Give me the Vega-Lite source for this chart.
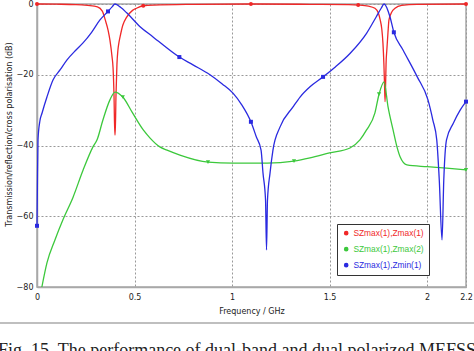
{
  "$schema": "https://vega.github.io/schema/vega-lite/v6.json",
  "autosize": {"type": "none"},
  "padding": {"left": 37, "top": 4, "right": 8, "bottom": 64},
  "width": 429,
  "height": 283,
  "background": "white",
  "config": {
    "view": {"stroke": "#a8a8a8", "strokeWidth": 1.5},
    "axis": {"labelFont": "DejaVu Sans", "titleFont": "DejaVu Sans", "labelFontSize": 8, "titleFontSize": 8, "titleFontWeight": "normal", "labelColor": "#222", "titleColor": "#222", "ticks": false, "domainColor": "#a8a8a8", "domainWidth": 1.5, "gridColor": "#999", "gridDash": [2, 2], "gridWidth": 1}
  },
  "title": {"text": "Fig. 15. The performance of dual-band and dual polarized MEFSS", "orient": "bottom", "anchor": "start", "frame": "group", "dx": -39, "offset": 18, "font": "Liberation Serif", "fontSize": 18, "fontWeight": "normal", "color": "#222"},
  "datasets": {
    "curves": [
      {"s": "SZmax(1),Zmax(1)", "f": 0, "db": 0}, {"s": "SZmax(1),Zmax(1)", "f": 0.1, "db": -0.05}, {"s": "SZmax(1),Zmax(1)", "f": 0.2, "db": -0.15}, {"s": "SZmax(1),Zmax(1)", "f": 0.26, "db": -0.4}, {"s": "SZmax(1),Zmax(1)", "f": 0.31, "db": -0.8}, {"s": "SZmax(1),Zmax(1)", "f": 0.335, "db": -2}, {"s": "SZmax(1),Zmax(1)", "f": 0.35, "db": -4.5}, {"s": "SZmax(1),Zmax(1)", "f": 0.365, "db": -7.5}, {"s": "SZmax(1),Zmax(1)", "f": 0.374, "db": -10.2}, {"s": "SZmax(1),Zmax(1)", "f": 0.385, "db": -15}, {"s": "SZmax(1),Zmax(1)", "f": 0.39, "db": -18}, {"s": "SZmax(1),Zmax(1)", "f": 0.395, "db": -26}, {"s": "SZmax(1),Zmax(1)", "f": 0.399, "db": -37}, {"s": "SZmax(1),Zmax(1)", "f": 0.401, "db": -37}, {"s": "SZmax(1),Zmax(1)", "f": 0.405, "db": -26}, {"s": "SZmax(1),Zmax(1)", "f": 0.41, "db": -17}, {"s": "SZmax(1),Zmax(1)", "f": 0.415, "db": -13}, {"s": "SZmax(1),Zmax(1)", "f": 0.42, "db": -11}, {"s": "SZmax(1),Zmax(1)", "f": 0.426, "db": -9.3}, {"s": "SZmax(1),Zmax(1)", "f": 0.44, "db": -6}, {"s": "SZmax(1),Zmax(1)", "f": 0.46, "db": -3.7}, {"s": "SZmax(1),Zmax(1)", "f": 0.49, "db": -1.8}, {"s": "SZmax(1),Zmax(1)", "f": 0.51, "db": -1.2}, {"s": "SZmax(1),Zmax(1)", "f": 0.545, "db": -0.5}, {"s": "SZmax(1),Zmax(1)", "f": 0.6, "db": -0.3}, {"s": "SZmax(1),Zmax(1)", "f": 0.8, "db": -0.1}, {"s": "SZmax(1),Zmax(1)", "f": 1.097, "db": 0}, {"s": "SZmax(1),Zmax(1)", "f": 1.4, "db": -0.1}, {"s": "SZmax(1),Zmax(1)", "f": 1.6, "db": -0.2}, {"s": "SZmax(1),Zmax(1)", "f": 1.647, "db": -0.3}, {"s": "SZmax(1),Zmax(1)", "f": 1.7, "db": -0.6}, {"s": "SZmax(1),Zmax(1)", "f": 1.733, "db": -1.2}, {"s": "SZmax(1),Zmax(1)", "f": 1.75, "db": -2.5}, {"s": "SZmax(1),Zmax(1)", "f": 1.76, "db": -4.5}, {"s": "SZmax(1),Zmax(1)", "f": 1.768, "db": -7}, {"s": "SZmax(1),Zmax(1)", "f": 1.774, "db": -11}, {"s": "SZmax(1),Zmax(1)", "f": 1.779, "db": -17}, {"s": "SZmax(1),Zmax(1)", "f": 1.782, "db": -22.4}, {"s": "SZmax(1),Zmax(1)", "f": 1.785, "db": -27.6}, {"s": "SZmax(1),Zmax(1)", "f": 1.788, "db": -22}, {"s": "SZmax(1),Zmax(1)", "f": 1.79, "db": -17}, {"s": "SZmax(1),Zmax(1)", "f": 1.794, "db": -13}, {"s": "SZmax(1),Zmax(1)", "f": 1.8, "db": -8}, {"s": "SZmax(1),Zmax(1)", "f": 1.805, "db": -4.5}, {"s": "SZmax(1),Zmax(1)", "f": 1.82, "db": -2.2}, {"s": "SZmax(1),Zmax(1)", "f": 1.836, "db": -1.2}, {"s": "SZmax(1),Zmax(1)", "f": 1.87, "db": -0.4}, {"s": "SZmax(1),Zmax(1)", "f": 1.95, "db": -0.1}, {"s": "SZmax(1),Zmax(1)", "f": 2.2, "db": 0},

      {"s": "SZmax(1),Zmax(2)", "f": 0.025, "db": -80}, {"s": "SZmax(1),Zmax(2)", "f": 0.051, "db": -73.2}, {"s": "SZmax(1),Zmax(2)", "f": 0.092, "db": -66.7}, {"s": "SZmax(1),Zmax(2)", "f": 0.133, "db": -61}, {"s": "SZmax(1),Zmax(2)", "f": 0.185, "db": -54.6}, {"s": "SZmax(1),Zmax(2)", "f": 0.236, "db": -47}, {"s": "SZmax(1),Zmax(2)", "f": 0.287, "db": -40.4}, {"s": "SZmax(1),Zmax(2)", "f": 0.308, "db": -38.4}, {"s": "SZmax(1),Zmax(2)", "f": 0.338, "db": -32.8}, {"s": "SZmax(1),Zmax(2)", "f": 0.374, "db": -27.1}, {"s": "SZmax(1),Zmax(2)", "f": 0.4, "db": -24.9}, {"s": "SZmax(1),Zmax(2)", "f": 0.44, "db": -26.3}, {"s": "SZmax(1),Zmax(2)", "f": 0.49, "db": -30.8}, {"s": "SZmax(1),Zmax(2)", "f": 0.545, "db": -35.6}, {"s": "SZmax(1),Zmax(2)", "f": 0.58, "db": -37.9}, {"s": "SZmax(1),Zmax(2)", "f": 0.63, "db": -40.4}, {"s": "SZmax(1),Zmax(2)", "f": 0.667, "db": -41.3}, {"s": "SZmax(1),Zmax(2)", "f": 0.733, "db": -42.7}, {"s": "SZmax(1),Zmax(2)", "f": 0.877, "db": -44.7}, {"s": "SZmax(1),Zmax(2)", "f": 1.005, "db": -45}, {"s": "SZmax(1),Zmax(2)", "f": 1.18, "db": -45}, {"s": "SZmax(1),Zmax(2)", "f": 1.318, "db": -44.4}, {"s": "SZmax(1),Zmax(2)", "f": 1.4, "db": -43.5}, {"s": "SZmax(1),Zmax(2)", "f": 1.5, "db": -42.1}, {"s": "SZmax(1),Zmax(2)", "f": 1.605, "db": -40.7}, {"s": "SZmax(1),Zmax(2)", "f": 1.656, "db": -38.4}, {"s": "SZmax(1),Zmax(2)", "f": 1.69, "db": -35.6}, {"s": "SZmax(1),Zmax(2)", "f": 1.733, "db": -30.8}, {"s": "SZmax(1),Zmax(2)", "f": 1.754, "db": -25.5}, {"s": "SZmax(1),Zmax(2)", "f": 1.78, "db": -22}, {"s": "SZmax(1),Zmax(2)", "f": 1.8, "db": -29}, {"s": "SZmax(1),Zmax(2)", "f": 1.826, "db": -35.6}, {"s": "SZmax(1),Zmax(2)", "f": 1.846, "db": -40.4}, {"s": "SZmax(1),Zmax(2)", "f": 1.862, "db": -43.2}, {"s": "SZmax(1),Zmax(2)", "f": 1.897, "db": -45.5}, {"s": "SZmax(1),Zmax(2)", "f": 2.0, "db": -46}, {"s": "SZmax(1),Zmax(2)", "f": 2.1, "db": -46.4}, {"s": "SZmax(1),Zmax(2)", "f": 2.2, "db": -46.9},

      {"s": "SZmax(1),Zmin(1)", "f": 0, "db": -62.7}, {"s": "SZmax(1),Zmin(1)", "f": 0.002, "db": -52}, {"s": "SZmax(1),Zmin(1)", "f": 0.005, "db": -38.4}, {"s": "SZmax(1),Zmin(1)", "f": 0.015, "db": -33}, {"s": "SZmax(1),Zmin(1)", "f": 0.026, "db": -30.8}, {"s": "SZmax(1),Zmin(1)", "f": 0.051, "db": -26.3}, {"s": "SZmax(1),Zmin(1)", "f": 0.082, "db": -21.5}, {"s": "SZmax(1),Zmin(1)", "f": 0.12, "db": -18.5}, {"s": "SZmax(1),Zmin(1)", "f": 0.154, "db": -15.8}, {"s": "SZmax(1),Zmin(1)", "f": 0.2, "db": -13}, {"s": "SZmax(1),Zmin(1)", "f": 0.236, "db": -11}, {"s": "SZmax(1),Zmin(1)", "f": 0.28, "db": -8}, {"s": "SZmax(1),Zmin(1)", "f": 0.323, "db": -4.5}, {"s": "SZmax(1),Zmin(1)", "f": 0.364, "db": -2.1}, {"s": "SZmax(1),Zmin(1)", "f": 0.385, "db": -0.8}, {"s": "SZmax(1),Zmin(1)", "f": 0.4, "db": 0}, {"s": "SZmax(1),Zmin(1)", "f": 0.43, "db": -1}, {"s": "SZmax(1),Zmin(1)", "f": 0.46, "db": -2.5}, {"s": "SZmax(1),Zmin(1)", "f": 0.53, "db": -6.5}, {"s": "SZmax(1),Zmin(1)", "f": 0.595, "db": -9.3}, {"s": "SZmax(1),Zmin(1)", "f": 0.73, "db": -15}, {"s": "SZmax(1),Zmin(1)", "f": 0.8, "db": -17.2}, {"s": "SZmax(1),Zmin(1)", "f": 0.887, "db": -20}, {"s": "SZmax(1),Zmin(1)", "f": 0.95, "db": -22.6}, {"s": "SZmax(1),Zmin(1)", "f": 1.005, "db": -25.2}, {"s": "SZmax(1),Zmin(1)", "f": 1.05, "db": -28.5}, {"s": "SZmax(1),Zmin(1)", "f": 1.097, "db": -33.3}, {"s": "SZmax(1),Zmin(1)", "f": 1.125, "db": -37.6}, {"s": "SZmax(1),Zmin(1)", "f": 1.149, "db": -41.3}, {"s": "SZmax(1),Zmin(1)", "f": 1.159, "db": -47.8}, {"s": "SZmax(1),Zmin(1)", "f": 1.172, "db": -55.4}, {"s": "SZmax(1),Zmin(1)", "f": 1.177, "db": -69.5}, {"s": "SZmax(1),Zmin(1)", "f": 1.182, "db": -55.4}, {"s": "SZmax(1),Zmin(1)", "f": 1.195, "db": -47.8}, {"s": "SZmax(1),Zmin(1)", "f": 1.21, "db": -41.3}, {"s": "SZmax(1),Zmin(1)", "f": 1.246, "db": -34.8}, {"s": "SZmax(1),Zmin(1)", "f": 1.313, "db": -29.1}, {"s": "SZmax(1),Zmin(1)", "f": 1.349, "db": -26.3}, {"s": "SZmax(1),Zmin(1)", "f": 1.4, "db": -23.4}, {"s": "SZmax(1),Zmin(1)", "f": 1.467, "db": -20.6}, {"s": "SZmax(1),Zmin(1)", "f": 1.53, "db": -17.8}, {"s": "SZmax(1),Zmin(1)", "f": 1.605, "db": -14}, {"s": "SZmax(1),Zmin(1)", "f": 1.69, "db": -8.3}, {"s": "SZmax(1),Zmin(1)", "f": 1.74, "db": -3.6}, {"s": "SZmax(1),Zmin(1)", "f": 1.765, "db": -1.2}, {"s": "SZmax(1),Zmin(1)", "f": 1.78, "db": 0}, {"s": "SZmax(1),Zmin(1)", "f": 1.81, "db": -3.6}, {"s": "SZmax(1),Zmin(1)", "f": 1.83, "db": -8}, {"s": "SZmax(1),Zmin(1)", "f": 1.877, "db": -13}, {"s": "SZmax(1),Zmin(1)", "f": 1.95, "db": -20.6}, {"s": "SZmax(1),Zmin(1)", "f": 2.005, "db": -27.1}, {"s": "SZmax(1),Zmin(1)", "f": 2.03, "db": -32.8}, {"s": "SZmax(1),Zmin(1)", "f": 2.05, "db": -38.4}, {"s": "SZmax(1),Zmin(1)", "f": 2.063, "db": -49.8}, {"s": "SZmax(1),Zmin(1)", "f": 2.077, "db": -66.7}, {"s": "SZmax(1),Zmin(1)", "f": 2.086, "db": -49.8}, {"s": "SZmax(1),Zmin(1)", "f": 2.1, "db": -38.4}, {"s": "SZmax(1),Zmin(1)", "f": 2.135, "db": -33.7}, {"s": "SZmax(1),Zmin(1)", "f": 2.17, "db": -30}, {"s": "SZmax(1),Zmin(1)", "f": 2.2, "db": -27.6}
    ],
    "markers": [
      {"s": "SZmax(1),Zmax(1)", "f": 0, "db": 0}, {"s": "SZmax(1),Zmax(1)", "f": 0.545, "db": -0.5}, {"s": "SZmax(1),Zmax(1)", "f": 1.097, "db": 0}, {"s": "SZmax(1),Zmax(1)", "f": 1.647, "db": -0.3}, {"s": "SZmax(1),Zmax(1)", "f": 2.2, "db": 0},
      {"s": "SZmax(1),Zmax(2)", "f": 0.44, "db": -26.3}, {"s": "SZmax(1),Zmax(2)", "f": 0.877, "db": -44.7}, {"s": "SZmax(1),Zmax(2)", "f": 1.318, "db": -44.4}, {"s": "SZmax(1),Zmax(2)", "f": 1.754, "db": -25.5}, {"s": "SZmax(1),Zmax(2)", "f": 2.2, "db": -46.9},
      {"s": "SZmax(1),Zmin(1)", "f": 0, "db": -62.7}, {"s": "SZmax(1),Zmin(1)", "f": 0.364, "db": -2.1}, {"s": "SZmax(1),Zmin(1)", "f": 0.73, "db": -15}, {"s": "SZmax(1),Zmin(1)", "f": 1.097, "db": -33.3}, {"s": "SZmax(1),Zmin(1)", "f": 1.467, "db": -20.6}, {"s": "SZmax(1),Zmin(1)", "f": 1.83, "db": -8}, {"s": "SZmax(1),Zmin(1)", "f": 2.2, "db": -27.6}
    ],
    "sep": [{"a": -0.2, "b": 2.4, "y": -90.2}]
  },
  "layer": [
    {
      "data": {"name": "curves"},
      "mark": {"type": "line", "strokeWidth": 1.3, "clip": false, "interpolate": "monotone"},
      "encoding": {
        "x": {"field": "f", "type": "quantitative", "scale": {"domain": [0, 2.2], "nice": false, "zero": false},
          "axis": {"values": [0, 0.5, 1, 1.5, 2, 2.2], "title": "Frequency / GHz", "labelPadding": 6, "titlePadding": 6, "labelFlush": false, "labelExpr": "datum.value"}},
        "y": {"field": "db", "type": "quantitative", "scale": {"domain": [-80, 0], "nice": false},
          "axis": {"values": [0, -20, -40, -60, -80], "title": "Transmission/reflection/cross polarisation (dB)", "labelPadding": 4, "titleX": -28, "titleY": 130, "titleAngle": 270, "titleAlign": "center", "titleBaseline": "middle", "labelFlush": false}},
        "color": {"field": "s", "type": "nominal",
          "scale": {"domain": ["SZmax(1),Zmax(1)", "SZmax(1),Zmax(2)", "SZmax(1),Zmin(1)"], "range": ["#f02828", "#3cc83c", "#2a2ae0"]},
          "legend": {"title": null, "orient": "none", "legendX": 300, "legendY": 220, "symbolType": "circle", "symbolSize": 10, "labelFont": "Liberation Sans", "labelFontSize": 8.4, "strokeColor": "#333", "fillColor": "white", "padding": 5, "rowPadding": 6, "labelOffset": 3,
            "encode": {"symbols": {"update": {"fill": {"scale": "color", "field": "value"}, "stroke": {"value": "transparent"}, "shape": {"value": "circle"}}}, "labels": {"update": {"fill": {"scale": "color", "field": "value"}}}}}},
        "detail": {"field": "s"},
        "order": {"field": "f", "type": "quantitative"}
      }
    },
    {
      "data": {"name": "markers"},
      "transform": [{"filter": "datum.s === 'SZmax(1),Zmax(1)'"}],
      "mark": {"type": "point", "filled": true, "size": 16, "opacity": 1, "clip": false, "shape": "circle"},
      "encoding": {
        "x": {"field": "f", "type": "quantitative"},
        "y": {"field": "db", "type": "quantitative"},
        "color": {"field": "s", "type": "nominal"}
      }
    },
    {
      "data": {"name": "markers"},
      "transform": [{"filter": "datum.s === 'SZmax(1),Zmax(2)'"}],
      "mark": {"type": "point", "filled": true, "size": 18, "opacity": 1, "clip": false, "shape": "triangle-down"},
      "encoding": {
        "x": {"field": "f", "type": "quantitative"},
        "y": {"field": "db", "type": "quantitative"},
        "color": {"field": "s", "type": "nominal"}
      }
    },
    {
      "data": {"name": "markers"},
      "transform": [{"filter": "datum.s === 'SZmax(1),Zmin(1)'"}],
      "mark": {"type": "point", "filled": true, "size": 16, "opacity": 1, "clip": false, "shape": "square"},
      "encoding": {
        "x": {"field": "f", "type": "quantitative"},
        "y": {"field": "db", "type": "quantitative"},
        "color": {"field": "s", "type": "nominal"}
      }
    },
    {
      "data": {"name": "sep"},
      "mark": {"type": "rule", "color": "#aaaaaa", "strokeWidth": 1.5, "clip": false},
      "encoding": {
        "x": {"field": "a", "type": "quantitative"},
        "x2": {"field": "b"},
        "y": {"field": "y", "type": "quantitative"}
      }
    }
  ]
}
